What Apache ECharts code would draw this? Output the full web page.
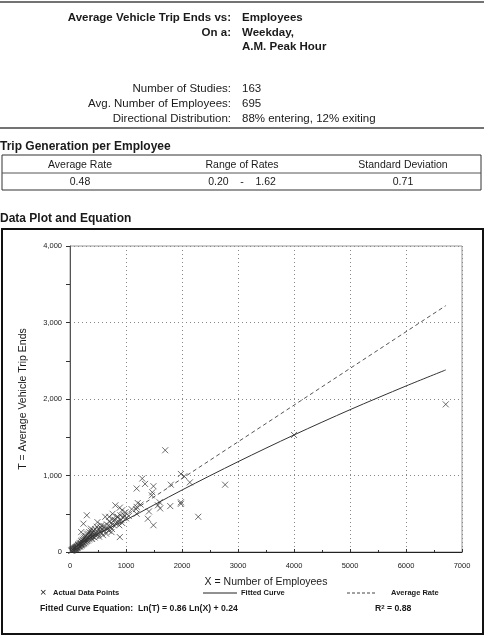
<!DOCTYPE html>
<html>
<head>
<meta charset="utf-8">
<script src="https://cdn.jsdelivr.net/npm/echarts/dist/echarts.min.js"></script>
<style>
  html, body { margin: 0; padding: 0; background: #fff; }
  #main { width: 489px; height: 638px; }
</style>
</head>
<body>
<div id="main"></div>
<script>
// data points (employees, trip ends)
var pointsX = [25, 30, 40, 45, 50, 55, 60, 65, 70, 75, 80, 85, 90, 95, 100, 100, 105, 110, 115, 120,
    120, 125, 130, 135, 140, 145, 150, 150, 155, 160, 165, 170, 175, 180, 185, 190, 195, 200, 200, 205,
    210, 215, 220, 225, 230, 235, 240, 245, 250, 255, 260, 265, 270, 275, 280, 285, 290, 295, 300, 305,
    310, 320, 325, 330, 340, 345, 350, 360, 365, 370, 380, 385, 390, 395, 400,
    410, 420, 430, 440, 450, 460, 470, 480, 490, 500, 510, 520, 530, 545, 560, 575, 590, 600, 615, 630,
    645, 660, 675, 690, 700,
    720, 735, 750, 760, 780, 800, 820, 840, 860, 880, 900, 915, 930, 950, 1000,
    240, 300, 200, 375, 490, 560, 630, 700, 740, 760, 810, 850, 890, 890, 930, 970, 990, 1190, 1290, 1340,
    1490, 1470, 1460, 1700, 1800, 1980, 2040, 2140, 2770, 2290, 1980, 1980, 1790, 1600, 1610, 1570, 1410, 1390, 1490, 1190,
    1260, 1210, 1180, 1190, 1100, 1050, 4000, 6710];
var pointsY = [15, 20, 22, 30, 28, 35, 25, 40, 38, 30, 45, 50, 40, 55, 48, 60, 42, 65, 55, 50,
    70, 62, 80, 58, 72, 90, 66, 85, 100, 75, 95, 80, 110, 70, 120, 90, 105, 85, 140, 115,
    95, 150, 130, 100, 160, 120, 105, 175, 140, 115, 190, 150, 125, 200, 160, 135, 210, 170, 145, 230,
    180, 150, 240, 190, 165, 260, 200, 175, 220, 280, 190, 240, 210, 170, 250,
    200, 280, 230, 190, 300, 240, 210, 330, 260, 230, 300, 200, 270, 320, 250, 290, 220, 340, 280, 300,
    240, 360, 310, 280, 400,
    330, 380, 300, 430, 350, 420, 370, 460, 400, 350, 480, 420, 380, 450, 440,
    370, 480, 260, 305, 390, 350, 460, 460, 260, 500, 610, 460, 580, 195, 545, 480, 520, 830, 960, 890,
    860, 780, 740, 1330, 880, 1020, 990, 910, 880, 460, 650, 630, 600, 650, 570, 610, 530, 435, 350, 590,
    620, 640, 560, 500, 560, 470, 1530, 1930];

// fitted curve Ln(T) = 0.86 Ln(X) + 0.24
var fitX = [30, 250, 500, 1000, 2000, 3000, 4000, 5000, 6000, 6710];
var fitY = [25, 140, 240, 420, 810, 1180, 1530, 1860, 2170, 2380];

// average rate line
var avgX = [0, 6710];
var avgY = [0, 3220];

var xTicks = [0, 1000, 2000, 3000, 4000, 5000, 6000, 7000];
var yTicks = [0, 1000, 2000, 3000, 4000];

var headerLabels = ['Average Vehicle Trip Ends vs:', 'On a:', ''];
var headerValues = ['Employees', 'Weekday,', 'A.M. Peak Hour'];
var statLabels = ['Number of Studies:', 'Avg. Number of Employees:', 'Directional Distribution:'];
var statValues = ['163', '695', '88% entering, 12% exiting'];
var tableHeads = ['Average Rate', 'Range of Rates', 'Standard Deviation'];
var tableVals = ['0.48', '0.20    -    1.62', '0.71'];

var FONT = '"Liberation Sans", Arial, Helvetica, sans-serif';
var INK = '#1a1a1a';

function zip(xs, ys) {
    var out = [];
    for (var i = 0; i < xs.length; i++) out.push([xs[i], ys[i]]);
    return out;
}

function txt(x, y, s, size, bold, align) {
    return {
        type: 'text',
        style: {
            x: x, y: y, text: s,
            font: (bold ? 'bold ' : '') + size + 'px ' + FONT,
            fill: INK,
            textAlign: align || 'left',
            textVerticalAlign: 'middle'
        }
    };
}

function hline(x1, x2, y, w, c) {
    return { type: 'line', shape: { x1: x1, y1: y, x2: x2, y2: y }, style: { stroke: c || '#333', lineWidth: w || 1 } };
}

var graphics = [];
graphics.push(hline(0, 484, 2, 1.5, '#444'));
var hy = [18, 33, 47];
headerLabels.forEach(function (s, i) {
    if (s) graphics.push(txt(231, hy[i], s, 11.5, true, 'right'));
    graphics.push(txt(242, hy[i], headerValues[i], 11.5, true));
});
var sy = [89, 104, 119];
statLabels.forEach(function (s, i) {
    graphics.push(txt(231, sy[i], s, 11.5, false, 'right'));
    graphics.push(txt(242, sy[i], statValues[i], 11.5, false));
});
graphics.push(hline(0, 484, 128, 1.5, '#444'));

graphics.push(txt(0, 147, 'Trip Generation per Employee', 12, true));
graphics.push({ type: 'rect', shape: { x: 2, y: 155, width: 479, height: 35 }, style: { fill: 'none', stroke: '#333', lineWidth: 1 } });
graphics.push(hline(2, 481, 173, 1, '#555'));
var colX = [80, 242, 403];
tableHeads.forEach(function (s, i) {
    graphics.push(txt(colX[i], 165, s, 10.5, false, 'center'));
    graphics.push(txt(colX[i], 182, tableVals[i], 10.5, false, 'center'));
});

graphics.push(txt(0, 219, 'Data Plot and Equation', 12, true));
graphics.push({ type: 'rect', shape: { x: 2, y: 229, width: 481, height: 405 }, style: { fill: 'none', stroke: '#111', lineWidth: 2 } });

// legend row
graphics.push(txt(40, 593, '\u00d7', 11, false));
graphics.push(txt(53, 593, 'Actual Data Points', 7.5, true));
graphics.push(hline(203, 237, 593, 1, '#222'));
graphics.push(txt(241, 593, 'Fitted Curve', 7.5, true));
graphics.push({ type: 'line', shape: { x1: 347, y1: 593, x2: 375, y2: 593 }, style: { stroke: '#444', lineWidth: 1, lineDash: [3, 2] } });
graphics.push(txt(391, 593, 'Average Rate', 7.5, true));
graphics.push(txt(40, 609, 'Fitted Curve Equation:  Ln(T) = 0.86 Ln(X) + 0.24', 8.7, true));
graphics.push({
    type: 'text',
    style: {
        x: 375, y: 609, textVerticalAlign: 'middle',
        text: '{a|R}{s|2}{a| = 0.88}',
        rich: {
            a: { font: 'bold 8.7px ' + FONT, fill: INK },
            s: { font: 'bold 6px ' + FONT, fill: INK, verticalAlign: 'top', padding: [0, 0, 4, 0] }
        }
    }
});

var chart = echarts.init(document.getElementById('main'), null, { renderer: 'canvas' });
chart.setOption({
    animation: false,
    backgroundColor: '#fff',
    grid: { left: 70, right: 27, top: 246, bottom: 86, show: true, borderColor: '#999', borderWidth: 1 },
    xAxis: {
        type: 'value', min: xTicks[0], max: xTicks[xTicks.length - 1], interval: 1000,
        name: 'X = Number of Employees', nameLocation: 'middle', nameGap: 25,
        nameTextStyle: { fontFamily: FONT, fontSize: 10.5, color: INK },
        axisLine: { show: true, onZero: false, lineStyle: { color: '#222', width: 1 } },
        axisTick: { show: true, inside: true, length: 3, lineStyle: { color: '#333' } },
        minorTick: { show: true, splitNumber: 2, length: 2, lineStyle: { color: '#333' } },
        axisLabel: {
            fontFamily: FONT, fontSize: 7.5, color: INK, margin: 10,
            formatter: function (v) { return String(v); }
        },
        splitLine: { show: true, lineStyle: { color: '#888', type: [1, 3], width: 1 } }
    },
    yAxis: {
        type: 'value', min: yTicks[0], max: yTicks[yTicks.length - 1], interval: 1000,
        name: 'T = Average Vehicle Trip Ends', nameLocation: 'middle', nameGap: 41,
        nameTextStyle: { fontFamily: FONT, fontSize: 10.5, color: INK },
        axisLine: { show: true, onZero: false, lineStyle: { color: '#555', width: 1 } },
        axisTick: { show: true, length: 4, lineStyle: { color: '#333' } },
        minorTick: { show: true, splitNumber: 2, length: 4, lineStyle: { color: '#333' } },
        axisLabel: {
            fontFamily: FONT, fontSize: 7.5, color: INK, margin: 8,
            formatter: function (v) { return v.toLocaleString('en-US'); }
        },
        splitLine: { show: true, lineStyle: { color: '#888', type: [1, 3], width: 1 } }
    },
    series: [
        {
            type: 'line', data: zip(avgX, avgY), showSymbol: false, silent: true,
            lineStyle: { color: '#555', width: 1, type: [4, 3] }
        },
        {
            type: 'line', data: zip(fitX, fitY), showSymbol: false, silent: true, smooth: 0.3,
            lineStyle: { color: '#333', width: 1 }
        },
        {
            type: 'scatter', data: zip(pointsX, pointsY),
            symbol: 'path://M0,0L10,10M10,0L0,10', symbolSize: 6,
            itemStyle: { color: 'none', borderColor: '#333', borderWidth: 0.9 }
        }
    ],
    graphic: graphics
});
</script>
</body>
</html>
